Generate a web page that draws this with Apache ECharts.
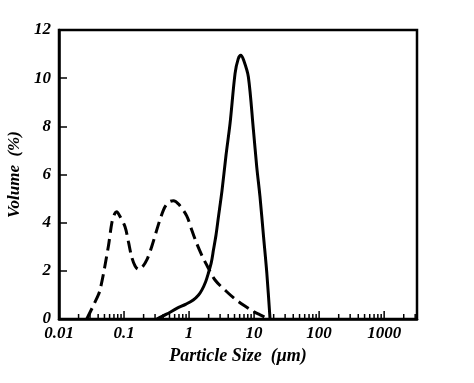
<!DOCTYPE html>
<html><head><meta charset="utf-8">
<script src="https://cdn.jsdelivr.net/npm/echarts@6/dist/echarts.min.js"></script>
<style>html,body{margin:0;padding:0;background:#fff}#c{width:474px;height:383px}</style>
</head><body><div id="c"></div>
<script>
// Particle size (µm) and volume (%)
const dashedSize = [0.0267,0.035,0.0427,0.0573,0.065,0.072,0.0772,0.085,0.1036,0.117,0.131,0.148,0.166,0.19,0.224,0.27,0.318,0.37,0.427,0.5,0.573,0.7,0.92,1.1,1.31,1.6,1.87,2.51,3.8,5.0,6.84,9.5,12.4,16.6];
const dashedVol  = [0,0.65,1.2,3.0,4.0,4.38,4.45,4.3,3.83,3.2,2.58,2.2,2.07,2.15,2.45,3.05,3.69,4.25,4.66,4.87,4.91,4.75,4.28,3.7,3.14,2.6,2.24,1.62,1.13,0.85,0.58,0.33,0.17,0];
const solidSize = [0.318,0.45,0.647,0.9,1.16,1.4,1.57,1.8,1.98,2.2,2.37,2.6,2.83,3.2,3.7,4.27,5.1,5.7,6.24,6.9,8.17,9.77,11.0,12.3,14.0,15.7,17.6];
const solidVol  = [0,0.2,0.44,0.62,0.79,1.0,1.2,1.55,1.9,2.35,2.86,3.5,4.24,5.3,6.8,8.12,10.2,10.8,10.95,10.75,10.05,7.84,6.3,5.1,3.4,1.9,0];
const xTickLabels = ['0.01','0.1','1','10','100','1000'];
const yTicks = [0,2,4,6,8,10,12];
const decades = [0.01,0.1,1,10,100,1000];
const minorMultipliers = [2,3,4,5,6,7,8,9];
const xMin = 0.01, xMax = 3200;

const majorTicks = decades.slice(1);
const minorTicks = [];
decades.forEach(d => minorMultipliers.forEach(m => { const v = +(d*m).toPrecision(3); if (v < xMax) minorTicks.push(v); }));

const font = {fontFamily:'Liberation Serif', fontWeight:'bold', fontStyle:'italic', fontSize:17, color:'#000'};
const chart = echarts.init(document.getElementById('c'), null, {renderer:'canvas'});

function tickSeries(vals, len){
  return {
    type:'custom', silent:true, clip:false, z:5,
    data: vals.map(v => [v, 0]),
    renderItem: function(params, api){
      const p = api.coord([api.value(0), api.value(1)]);
      return {type:'line', shape:{x1:p[0], y1:p[1], x2:p[0], y2:p[1]-len}, style:{stroke:'#000', lineWidth:1.5}};
    }
  };
}

chart.setOption({
  animation:false,
  grid:{left:59, right:57, top:30, bottom:64, containLabel:false, outerBoundsMode:'none',
        show:true, borderColor:'#000', borderWidth:2.5, backgroundColor:'#fff'},
  xAxis:{
    type:'log', logBase:10, min:xMin, max:xMax,
    name:'Particle Size  (μm)', nameLocation:'middle', nameGap:27,
    nameTextStyle:Object.assign({}, font, {fontSize:18}),
    axisLine:{show:true, onZero:false, lineStyle:{color:'#000', width:2.5}},
    axisTick:{show:false},
    splitLine:{show:false},
    axisLabel:Object.assign({}, font, {margin:6, showMaxLabel:false,
      formatter:function(v){
        const s = String(+v.toPrecision(3));
        return xTickLabels.indexOf(s) >= 0 ? s : '';
      }})
  },
  yAxis:{
    type:'value', min:0, max:12, interval:2,
    name:'Volume  (%)', nameLocation:'middle', nameGap:30, nameRotate:90,
    nameTextStyle:Object.assign({}, font),
    axisLine:{show:true, lineStyle:{color:'#000', width:2.5}},
    axisTick:{show:true, inside:true, length:8, lineStyle:{color:'#000', width:1.5}},
    splitLine:{show:false},
    axisLabel:Object.assign({}, font, {margin:8, formatter:function(v){ return yTicks.indexOf(v) >= 0 ? String(v) : ''; }})
  },
  series:[
    {type:'line', data: dashedSize.map((s,i)=>[s, dashedVol[i]]), showSymbol:false, smooth:0.3,
     lineStyle:{color:'#000', width:3, type:[12,6]}, z:3},
    {type:'line', data: solidSize.map((s,i)=>[s, solidVol[i]]), showSymbol:false, smooth:0.3,
     lineStyle:{color:'#000', width:3}, z:4},
    tickSeries(majorTicks, 8),
    tickSeries(minorTicks, 5)
  ]
});
</script></body></html>
